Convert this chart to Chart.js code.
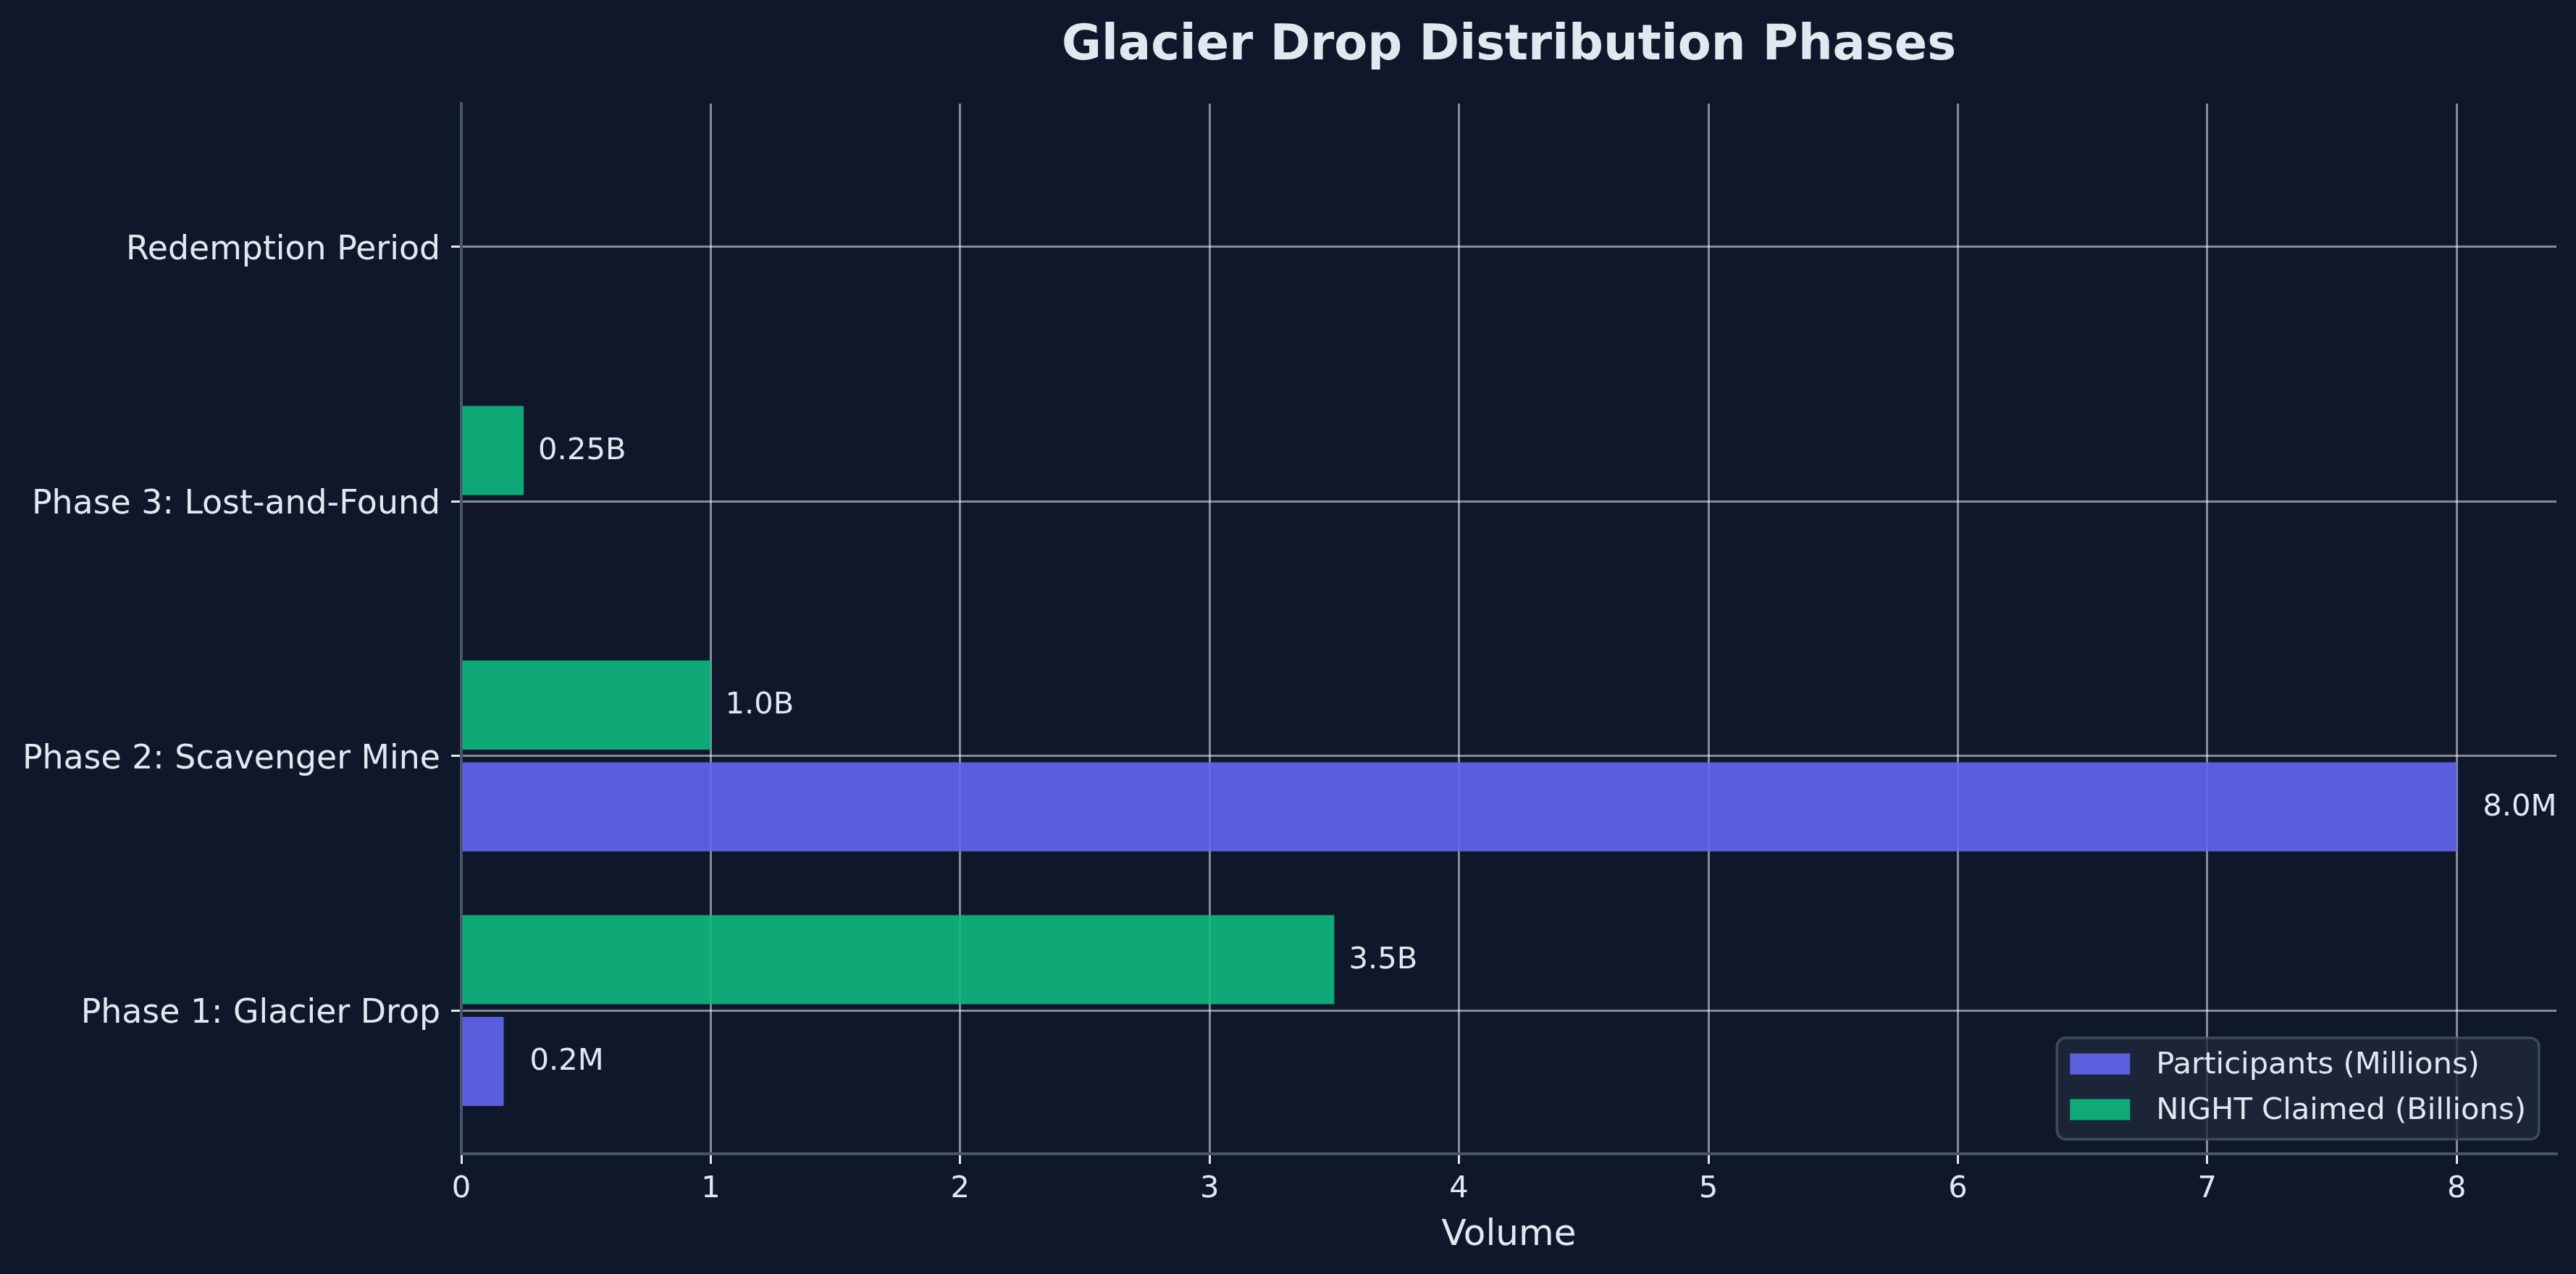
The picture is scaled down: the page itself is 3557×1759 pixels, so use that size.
<!DOCTYPE html>
<html>
<head>
<meta charset="utf-8">
<script src="https://cdn.jsdelivr.net/npm/chart.js@4.4.1/dist/chart.umd.min.js"></script>
<style>
  html, body { margin: 0; padding: 0; background: #0f172a; }
  canvas { display: block; }
</style>
</head>
<body>
<canvas id="chart" width="3557" height="1759"></canvas>
<script>
// categories, bottom to top
const categories = ['Phase 1: Glacier Drop', 'Phase 2: Scavenger Mine', 'Phase 3: Lost-and-Found', 'Redemption Period']
const participants = [0.17, 8.0, 0, 0]    // millions
const nightClaimed = [3.5, 1.0, 0.25, 0]  // billions
const xTicks = [0, 1, 2, 3, 4, 5, 6, 7, 8]

const TEXT = '#e2e8f0'
const FONT = "'DejaVu Sans', sans-serif"
const PURPLE = 'rgba(99, 102, 241, 0.9)'
const GREEN = 'rgba(16, 185, 129, 0.9)'
const GRID = 'rgba(255, 255, 255, 0.5)'
const SPINE = '#475569'

// python-ish float to string
const pyStr = v => Number.isInteger(v) ? v.toFixed(1) : String(v)

const labelFmt = {
    'Participants (Millions)': v => v.toFixed(1) + 'M',
    'NIGHT Claimed (Billions)': v => pyStr(v) + 'B'
}
const labelPad = {
    'Participants (Millions)': 36,
    'NIGHT Claimed (Billions)': 20
}
// legend order as in the reference
const legendOrder = ['Participants (Millions)', 'NIGHT Claimed (Billions)']

const valueLabels = {
    id: 'valueLabels',
    afterDraw(chart) {
        const ctx = chart.ctx
        ctx.save()
        ctx.font = `41.7px ${FONT}`
        ctx.fillStyle = TEXT
        ctx.textBaseline = 'middle'
        ctx.textAlign = 'left'
        chart.data.datasets.forEach((ds, di) => {
            const meta = chart.getDatasetMeta(di)
            meta.data.forEach((bar, i) => {
                const v = ds.data[i].x
                if (!v) return
                ctx.fillText(labelFmt[ds.label](v), bar.x + labelPad[ds.label], bar.y + 1)
            })
        })
        ctx.restore()
    }
}

const boxLegend = {
    id: 'boxLegend',
    afterDraw(chart) {
        const ctx = chart.ctx
        const area = chart.chartArea
        const fs = 41.7
        ctx.save()
        ctx.font = `${fs}px ${FONT}`
        const items = legendOrder.map(l => chart.data.datasets.find(d => d.label === l))
        const textW = Math.max(...items.map(d => ctx.measureText(d.label).width))
        const w = 18 + 83 + 36 + textW + 18
        const h = 140
        const right = area.right - 24
        const bottom = area.bottom - 20
        const left = right - w
        const top = bottom - h

        ctx.beginPath()
        ctx.roundRect(left, top, w, h, 12)
        ctx.fillStyle = 'rgba(30, 41, 59, 0.8)'
        ctx.fill()
        ctx.lineWidth = 3.5
        ctx.strokeStyle = 'rgba(71, 85, 105, 0.8)'
        ctx.stroke()

        ctx.textBaseline = 'middle'
        ctx.textAlign = 'left'
        items.forEach((d, i) => {
            const cy = top + 36 + i * 63
            ctx.fillStyle = d.backgroundColor
            ctx.fillRect(left + 18, cy - 14.5, 83, 29)
            ctx.fillStyle = TEXT
            ctx.fillText(d.label, left + 18 + 83 + 36, cy + 2)
        })
        ctx.restore()
    }
}

const ctx = document.getElementById('chart')

new Chart(ctx, {
    type: 'bar',
    data: {
        datasets: [{
            // first dataset sits on the upper side of each group
            label: 'NIGHT Claimed (Billions)',
            data: nightClaimed.map((v, i) => ({ x: v, y: i })),
            backgroundColor: GREEN,
            borderWidth: 0
        }, {
            label: 'Participants (Millions)',
            data: participants.map((v, i) => ({ x: v, y: i })),
            backgroundColor: PURPLE,
            borderWidth: 0
        }]
    },
    options: {
        indexAxis: 'y',
        responsive: false,
        animation: false,
        devicePixelRatio: 1,
        categoryPercentage: 0.8,
        barPercentage: 0.875,
        layout: {
            padding: { left: 0, right: 27, top: 0, bottom: 0 }
        },
        plugins: {
            legend: { display: false },
            tooltip: { enabled: false },
            title: {
                display: true,
                fullSize: false,
                text: 'Glacier Drop Distribution Phases',
                color: TEXT,
                font: { family: FONT, size: 67, weight: 'bold' },
                padding: { top: 24, bottom: 38.6 }
            }
        },
        scales: {
            x: {
                type: 'linear',
                position: 'bottom',
                min: 0,
                max: 8.4,
                z: 1,
                afterBuildTicks: s => { s.ticks = xTicks.map(v => ({ value: v })) },
                afterFit: s => { s.height = 1759 - 1593 },
                grid: {
                    color: GRID,
                    lineWidth: 3,
                    tickColor: TEXT,
                    tickLength: 14,
                    tickWidth: 3
                },
                border: { color: SPINE, width: 4 },
                ticks: {
                    color: TEXT,
                    font: { family: FONT, size: 41.7 },
                    padding: 10,
                    autoSkip: false,
                    maxRotation: 0
                },
                title: {
                    display: true,
                    text: 'Volume',
                    color: TEXT,
                    font: { family: FONT, size: 50 },
                    padding: { top: 23, bottom: 23 }
                }
            },
            y: {
                type: 'linear',
                min: -0.5625,
                max: 3.5625,
                offset: false,
                z: 1,
                afterBuildTicks: s => { s.ticks = categories.map((c, i) => ({ value: i })) },
                afterFit: s => { s.width = 637 },
                grid: {
                    offset: false,
                    color: GRID,
                    lineWidth: 3,
                    tickColor: TEXT,
                    tickLength: 14,
                    tickWidth: 3
                },
                border: { color: SPINE, width: 4 },
                ticks: {
                    color: TEXT,
                    font: { family: FONT, size: 45.8 },
                    padding: 15,
                    labelOffset: 5,
                    autoSkip: false,
                    callback: v => categories[v]
                }
            }
        }
    },
    plugins: [valueLabels, boxLegend]
})
</script>
</body>
</html>
